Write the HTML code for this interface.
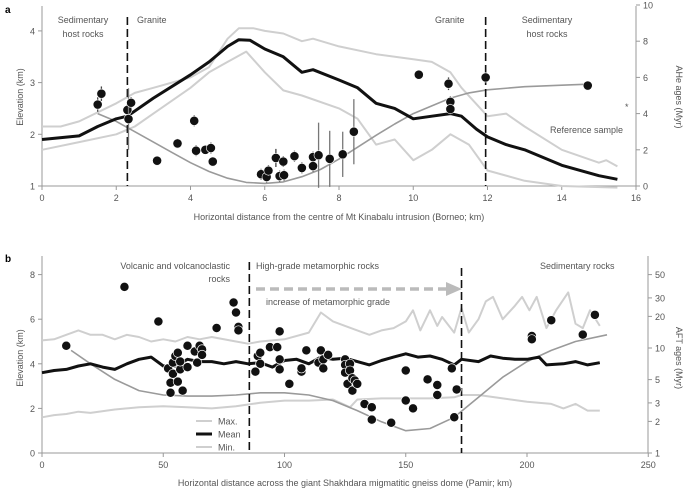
<!DOCTYPE html>
<html><head><meta charset="utf-8"><style>
body{margin:0;background:#fff}
svg{display:block;font-family:"Liberation Sans",sans-serif}
text{fill:#555;font-size:9px}
</style></head><body>
<svg id="c" width="685" height="489" viewBox="0 0 685 489"></svg>
<script>
// ---- Panel a data ----
const aMeanX=[0,1,1.5,2,2.3,3,4,4.5,5,5.3,5.6,6,6.5,7,7.3,8,8.5,9,9.5,10,10.5,11,11.3,11.7,12,12.5,13,14,15,15.5];
const aMeanY=[1.9,1.97,2.15,2.3,2.35,2.7,3.15,3.4,3.7,3.83,3.82,3.65,3.5,3.2,3.25,3.05,2.9,2.6,2.5,2.3,2.35,2.4,2.35,2.1,1.95,1.8,1.7,1.4,1.2,1.13];
const aMaxX=[0,0.5,1,2,2.5,3,4,4.5,5,5.3,5.7,6,6.5,7,7.3,8,9,10,10.5,11,11.3,12,12.5,13,14,15,15.2,15.5];
const aMaxY=[2.15,2.15,2.25,2.6,2.8,2.9,3.1,3.3,3.85,4.05,4.05,4.0,3.95,3.8,3.85,3.7,3.55,3.45,3.4,3.2,2.9,2.35,2.4,2.15,1.7,1.45,1.5,1.38];
const aMinX=[0,1,2,2.5,3,4,4.5,5,5.5,6,6.5,7,8,8.5,9,9.5,10,10.5,11,11.5,12,13,14,15.5];
const aMinY=[1.7,1.85,2.0,2.15,2.4,2.9,3.2,3.4,3.6,3.2,2.85,2.75,2.5,2.3,1.8,1.9,1.5,1.7,2.0,1.8,1.3,1.1,1.0,0.97];
const aFitX=[1.5,2,2.5,3,3.5,4,4.5,5,5.5,6,6.5,7,7.5,8,8.5,9,9.5,10,10.5,11,11.5,12,13,14,14.7];
const aFitY=[2.4,2.25,2.05,1.85,1.65,1.45,1.28,1.15,1.07,1.05,1.08,1.18,1.32,1.52,1.75,1.98,2.2,2.4,2.55,2.7,2.8,2.86,2.92,2.95,2.97];
const aPtX=[1.5,1.6,2.3,2.33,2.4,3.1,3.65,4.1,4.15,4.4,4.55,4.6,5.9,6.05,6.1,6.3,6.4,6.5,6.52,6.8,7.0,7.3,7.3,7.45,7.75,8.1,8.4,10.15,10.95,11.0,11.0,11.95,14.7];
const aPtAge=[4.5,5.1,4.2,3.7,4.6,1.4,2.35,3.6,1.95,2.0,2.1,1.35,0.65,0.5,0.85,1.55,0.55,1.35,0.6,1.65,1.0,1.6,1.1,1.7,1.5,1.75,3.0,6.15,5.65,4.65,4.25,6.0,5.55];
const aPtErr=[0.4,0.4,0.3,1.7,0.3,0.25,0.25,0.3,0.3,0.25,0.3,0.25,0.3,0.3,0.3,0.5,0.3,0.3,0.3,0.3,0.3,0.3,0.3,1.8,1.55,1.25,1.8,0.25,0.35,0.3,0.3,0.3,0.2];
const aXTicks=[0,2,4,6,8,10,12,14,16];
const aYTicks=[1,2,3,4];
const aRTicks=[0,2,4,6,8,10];
// ---- Panel b data ----
const bMeanX=[0,5,10,15,20,25,30,35,40,45,50,55,60,65,70,75,80,85,90,95,100,105,110,115,120,125,130,135,140,145,150,155,160,165,170,173,180,185,190,195,200,205,208,215,220,225,230];
const bMeanY=[3.6,3.7,3.75,3.9,4.0,3.85,3.75,4.0,4.2,4.3,3.9,3.9,4.2,4.1,4.1,4.0,4.1,4.0,4.05,3.85,4.15,4.2,4.0,4.3,4.2,4.25,4.1,3.95,4.15,4.3,4.45,4.3,4.35,4.2,3.95,4.2,4.1,4.35,4.25,4.2,4.2,4.3,3.95,4.0,4.1,3.95,4.05];
const bMaxX=[0,5,10,15,20,25,30,35,40,45,50,55,60,65,70,80,85,90,100,110,115,120,125,130,135,140,145,150,153,156,160,163,165,170,173,176,180,183,186,190,195,198,201,204,208,212,217,220,223,226,230];
const bMaxY=[5.05,5.1,5.3,5.5,5.3,5.3,5.1,5.3,5.2,5.0,5.1,5.0,5.2,5.1,5.2,5.0,4.9,5.0,5.1,5.4,6.3,5.9,5.7,5.5,5.3,5.5,5.6,5.9,6.4,5.5,6.4,5.7,6.1,5.4,6.5,5.4,6.0,6.8,7.0,6.0,6.6,7.0,6.4,7.0,5.6,6.4,7.2,5.8,5.6,6.4,5.7];
const bMinX=[0,5,10,15,20,30,40,50,60,70,80,90,100,110,120,124,127,130,140,150,160,170,173,180,190,200,210,215,220,225,230];
const bMinY=[1.6,1.7,1.75,1.85,1.8,1.95,2.05,2.1,2.05,2.0,2.1,2.25,2.35,2.35,2.4,2.2,2.05,2.4,2.45,2.45,2.45,2.5,2.6,2.6,2.45,2.3,2.2,2.0,2.2,1.9,1.9];
const bFitX=[12,20,30,40,50,60,70,80,90,100,110,120,130,140,150,160,170,180,190,200,210,220,233];
const bFitY=[4.6,4.0,3.3,2.8,2.6,2.55,2.55,2.6,2.7,2.7,2.6,2.35,1.9,1.4,1.0,1.1,1.6,2.5,3.4,4.1,4.6,5.0,5.3];
const bPtX=[10,34,48,52,53,53,54,54,55,56,56,57,57,58,60,60,63,64,65,66,66,72,79,80,81,81,88,89,90,90,94,97,98,98,98,102,107,107,109,114,115,116,116,118,125,125,125,126,127,127,128,128,129,130,133,136,136,144,150,150,153,159,163,163,169,170,171,202,202,210,223,228];
const bPtAge=[10.5,38.2,17.9,6.4,3.75,4.67,5.68,7.25,8.4,4.78,9.0,6.26,7.43,3.93,6.57,10.5,9.25,7.25,10.5,9.7,8.6,15.5,27.1,21.8,15.9,14.7,5.96,8.4,9.0,7.07,10.2,10.2,7.8,6.26,14.4,4.55,5.96,6.4,9.5,7.25,9.5,7.8,6.4,8.6,7.8,6.9,5.82,4.55,7.07,6.1,5.15,3.93,4.9,4.55,2.93,2.73,2.08,1.94,6.1,3.16,2.66,5.02,4.44,3.57,6.4,2.19,4.03,13.0,12.1,18.4,13.4,20.7];
const bXTicks=[0,50,100,150,200,250];
const bYTicks=[0,2,4,6,8];
const bRTicks=[1,2,3,5,10,20,30,50];

// ---- axis functions ----
const ax=v=>42+v*(594/16), ay=v=>186-(v-1)*51.7, ar=v=>186-v*18.1;
const bx=v=>42+v*2.425, by=v=>453-v*22.3, br=v=>453-Math.log10(v)/Math.log10(50)*178.4;

const svg=document.getElementById('c');
const NS='http://www.w3.org/2000/svg';
function mk(tag,attrs,parent){const e=document.createElementNS(NS,tag);for(const k in attrs)e.setAttribute(k,attrs[k]);(parent||svg).appendChild(e);return e;}
function txt(x,y,s,anchor,extra){const t=mk('text',Object.assign({x:x,y:y,'text-anchor':anchor||'start'},extra||{}));t.textContent=s;return t;}
function line(xs,ys,fx,fy,stroke,w,name){
  const d=xs.map((x,i)=>(i?'L':'M')+fx(x).toFixed(1)+','+fy(ys[i]).toFixed(1)).join('');
  const p=mk('path',{d:d,fill:'none',stroke:stroke,'stroke-width':w,'stroke-linejoin':'round'});
  
  
  return p;
}
function frame(x0,x1,yt,yb,xt,fx,yTk,fy,rTk,fr,name){
  const g=mk('g',{});
  
  
  mk('line',{x1:x0,y1:yb,x2:x1,y2:yb,stroke:'#999','stroke-width':1},g);
  mk('line',{x1:x0,y1:yt,x2:x0,y2:yb,stroke:'#999','stroke-width':1},g);
  mk('line',{x1:x1,y1:yt,x2:x1,y2:yb,stroke:'#999','stroke-width':1},g);
  xt.forEach(v=>{mk('line',{x1:fx(v),y1:yb,x2:fx(v),y2:yb+4,stroke:'#999'},g);const t=txt(fx(v),yb+15,v,'middle');});
  yTk.forEach(v=>{mk('line',{x1:x0-4,y1:fy(v),x2:x0,y2:fy(v),stroke:'#999'},g);const t=txt(x0-7,fy(v)+3.5,v,'end');});
  rTk.forEach(v=>{mk('line',{x1:x1,y1:fr(v),x2:x1+4,y2:fr(v),stroke:'#999'},g);const t=txt(x1+7,fr(v)+3.5,v,'start');});
}
function dashed(x,y1,y2,name){const l=mk('line',{x1:x,y1:y1,x2:x,y2:y2,stroke:'#111','stroke-width':1.6,'stroke-dasharray':'8,4'});}

// ---- Panel a ----
frame(42,636,6,186,aXTicks,ax,aYTicks,ay,aRTicks,ar,'panel-a-axes');
line(aMaxX,aMaxY,ax,ay,'#cfcfcf',2,'a-max-elevation');
line(aMinX,aMinY,ax,ay,'#cfcfcf',2,'a-min-elevation');
line(aFitX,aFitY,ax,ay,'#9a9a9a',1.6,'a-model-curve');
line(aMeanX,aMeanY,ax,ay,'#111',3,'a-mean-elevation');
dashed(ax(2.3),17,186,'a-boundary-left');
dashed(ax(11.95),17,186,'a-boundary-right');
aPtX.forEach((x,i)=>{
  const g=mk('g',{});
  
  
  mk('line',{x1:ax(x),y1:ar(aPtAge[i]-aPtErr[i]),x2:ax(x),y2:ar(aPtAge[i]+aPtErr[i]),stroke:aPtErr[i]>1?'#777':'#444','stroke-width':1.3},g);
  mk('circle',{cx:ax(x),cy:ar(aPtAge[i]),r:4.6,fill:'#111',stroke:'#fff','stroke-width':0.6},g);
});
[[5,13,'a',{style:'font-weight:bold;fill:#000;font-size:10px'}],[83,23,'Sedimentary','middle'],[83,37,'host rocks','middle'],[137,23,'Granite'],[435,23,'Granite'],[547,23,'Sedimentary','middle'],[547,37,'host rocks','middle'],[550,133,'Reference sample'],[625,110,'*']].forEach(a=>{
  const t=txt(a[0],a[1],a[2],typeof a[3]==='string'?a[3]:'start',typeof a[3]==='object'?a[3]:{});
  
  
});
let t1=txt(339,220,'Horizontal distance from the centre of Mt Kinabalu intrusion (Borneo; km)','middle');

let t2=txt(0,0,'Elevation (km)','middle',{transform:'translate(23,97) rotate(-90)'});

let t3=txt(0,0,'AHe ages (Myr)','middle',{transform:'translate(676,97) rotate(90)'});


// ---- Panel b ----
frame(42,648,256,453,bXTicks,bx,bYTicks,by,bRTicks,br,'panel-b-axes');
line(bMaxX,bMaxY,bx,by,'#cfcfcf',2,'b-max-elevation');
line(bMinX,bMinY,bx,by,'#cfcfcf',2,'b-min-elevation');
line(bFitX,bFitY,bx,by,'#9a9a9a',1.6,'b-model-curve');
line(bMeanX,bMeanY,bx,by,'#111',3,'b-mean-elevation');
dashed(bx(85.5),262,453,'b-boundary-left');
dashed(bx(173),268,453,'b-boundary-right');
const ar1=mk('line',{x1:256,y1:289,x2:450,y2:289,stroke:'#bbb','stroke-width':3.5,'stroke-dasharray':'9,5'});

const ar2=mk('polygon',{points:'446,282 462,289 446,296',fill:'#bbb'});

bPtX.forEach((x,i)=>{
  const c=mk('circle',{cx:bx(x),cy:br(bPtAge[i]),r:4.6,fill:'#111',stroke:'#fff','stroke-width':0.7});
  
  
});
[[5,262,'b',{style:'font-weight:bold;fill:#000;font-size:10px'}],[230,269,'Volcanic and volcanoclastic','end'],[230,282,'rocks','end'],[256,269,'High-grade metamorphic rocks'],[266,305,'increase of metamorphic grade'],[540,269,'Sedimentary rocks']].forEach(a=>{
  const t=txt(a[0],a[1],a[2],typeof a[3]==='string'?a[3]:'start',typeof a[3]==='object'?a[3]:{});
  
  
});
[['Max.','#cfcfcf',2,421],['Mean','#111',3,434],['Min.','#cfcfcf',2,447]].forEach(l=>{
  const g=mk('g',{});
  
  
  mk('line',{x1:196,y1:l[3],x2:212,y2:l[3],stroke:l[1],'stroke-width':l[2]},g);
  const t=mk('text',{x:218,y:l[3]+3.5},g);t.textContent=l[0];
});
let t4=txt(345,486,'Horizontal distance across the giant Shakhdara migmatitic gneiss dome (Pamir; km)','middle');

let t5=txt(0,0,'Elevation (km)','middle',{transform:'translate(23,358) rotate(-90)'});

let t6=txt(0,0,'AFT ages (Myr)','middle',{transform:'translate(676,358) rotate(90)'});

</script>
</body></html>
